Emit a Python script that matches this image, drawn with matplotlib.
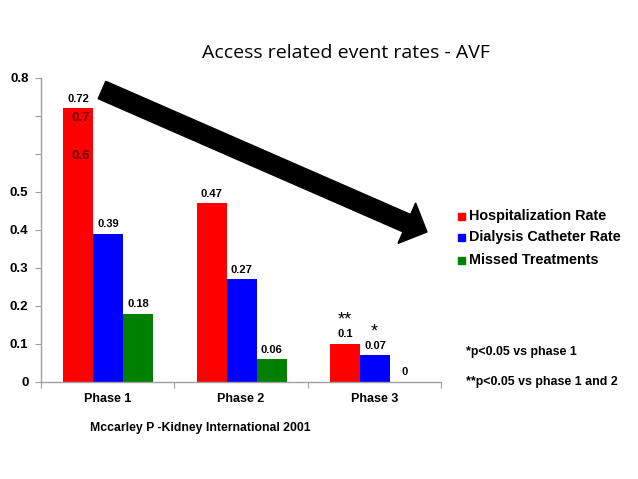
import matplotlib
matplotlib.use("Agg")
import matplotlib.pyplot as plt
import numpy as np
from matplotlib.patches import FancyArrow

categories = ["Phase 1", "Phase 2", "Phase 3"]
series_names = ["Hospitalization Rate", "Dialysis Catheter Rate", "Missed Treatments"]
hosp = [0.72, 0.47, 0.10]
cath = [0.39, 0.27, 0.07]
missed = [0.18, 0.06, 0.0]
colors = ["#ff0000", "#0000ff", "#008000"]
yticks = [0, 0.1, 0.2, 0.3, 0.4, 0.5, 0.6, 0.7, 0.8]
ytick_labels = ["0", "0.1", "0.2", "0.3", "0.4", "0.5", "", "", "0.8"]

plt.rcParams['font.family'] = ['Liberation Sans', 'DejaVu Sans']

fig = plt.figure(figsize=(6.38, 4.79), dpi=100)
ax = fig.add_axes([41/638, 97/479, 400/638, 304/479])

x = np.arange(len(categories)) + 0.5
w = 0.225
series = [hosp, cath, missed]
for i, (vals, c) in enumerate(zip(series, colors)):
    xs = x + (i - 1) * w + 0.005
    ax.bar(xs, vals, width=w, color=c, label=series_names[i], zorder=2)
    for xi, v in zip(xs, vals):
        ax.text(xi, v + 0.012, f"{v:g}", ha='center', va='bottom',
                fontsize=8, fontweight='bold', color='black')

# significance markers
ax.text(x[2] - w, hosp[2] + 0.04, "**", ha='center', va='bottom', fontsize=13, color='black')
ax.text(x[2], cath[2] + 0.04, "*", ha='center', va='bottom', fontsize=13, color='black')

# tick labels showing through the bar
for yv in [0.7, 0.6]:
    ax.text(x[0] - w + 0.02, yv - 0.005, f"{yv:g}", ha='center', va='center',
            fontsize=9.5, fontweight='bold', color='#6a0000')

ax.set_xlim(0, 3)
ax.set_ylim(0, 0.8)
ax.set_yticks(yticks)
ax.set_yticklabels(ytick_labels, fontsize=9.5, fontweight='bold')
ax.set_xticks([0, 1, 2, 3], minor=False)
ax.set_xticklabels([])
ax.set_xticks(x, minor=True)
ax.set_xticklabels(categories, minor=True, fontsize=9, fontweight='bold')
ax.tick_params(axis='x', which='minor', length=0, pad=8)
ax.tick_params(axis='x', which='major', length=4, color='#a0a0a0', direction='out')
ax.tick_params(axis='y', length=4, color='#a0a0a0', direction='out', pad=5)
for s in ['top', 'right']:
    ax.spines[s].set_visible(False)
for s in ['left', 'bottom']:
    ax.spines[s].set_color('#a0a0a0')
    ax.spines[s].set_linewidth(1.0)

# title
fig.text(346/638, 1 - 53/479, "Access related event rates - AVF", ha='center', va='center',
         fontsize=14, family=['Open Sans', 'DejaVu Sans'])

# legend
leg_y = [216, 237, 260]
for name, c, yy in zip(series_names, colors, leg_y):
    fig.patches.append(plt.Rectangle((458/638, 1 - (yy + 4) / 479), 7/638, 7/479,
                                     transform=fig.transFigure, color=c, figure=fig))
    fig.text(469/638, 1 - yy / 479, name, ha='left', va='center', fontsize=10.4, fontweight='bold')

# footnotes
fig.text(466/638, 1 - 352/479, "*p<0.05 vs phase 1", ha='left', va='center', fontsize=8.9, fontweight='bold')
fig.text(466/638, 1 - 382/479, "**p<0.05 vs phase 1 and 2", ha='left', va='center', fontsize=8.9, fontweight='bold')
fig.text(90/638, 1 - 428/479, "Mccarley P -Kidney International 2001", ha='left', va='center',
         fontsize=8.8, fontweight='bold')

# big arrow (in inches, isotropic)
x0, y0 = 102/100, (479 - 90)/100
x1, y1 = 427/100, (479 - 232)/100
arr = FancyArrow(x0, y0, x1 - x0, y1 - y0, width=0.19, head_width=0.44, head_length=0.22,
                 length_includes_head=True, color='black', transform=fig.dpi_scale_trans, zorder=5)
fig.add_artist(arr)

fig.savefig("out.png", dpi=100)
